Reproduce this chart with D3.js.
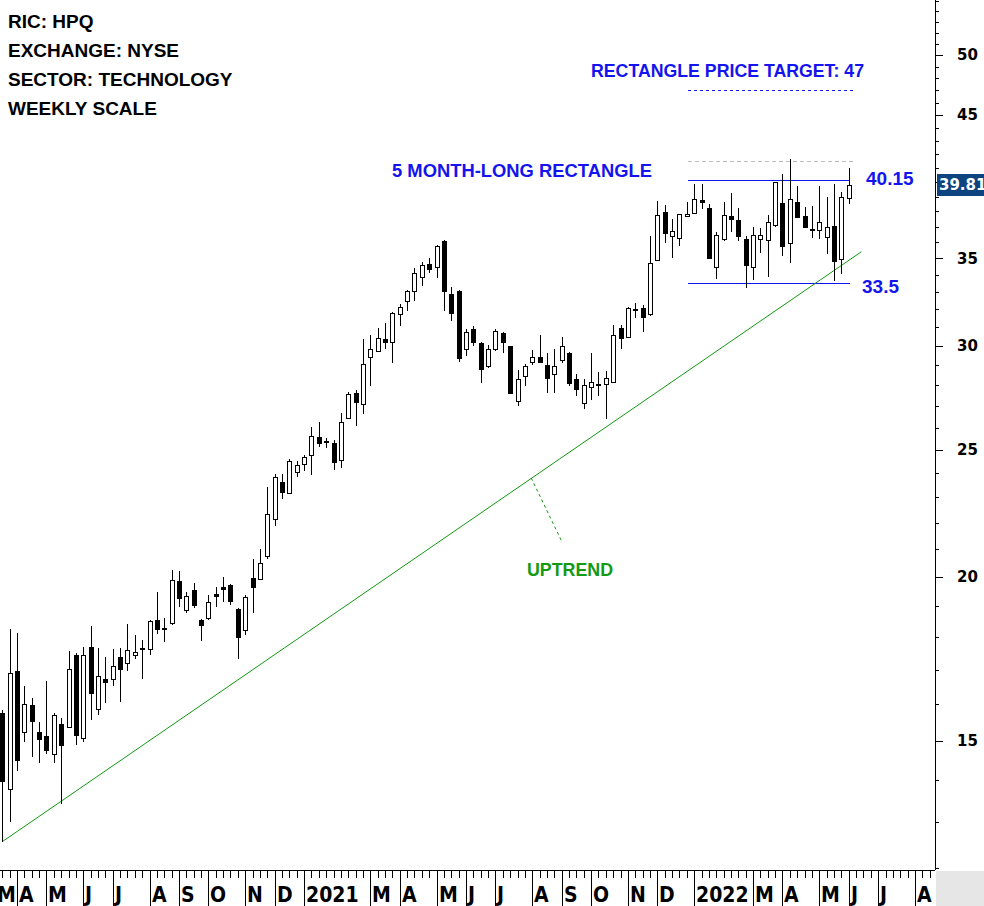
<!DOCTYPE html>
<html>
<head>
<meta charset="utf-8">
<script src="https://cdn.jsdelivr.net/npm/d3@7"></script>
<style>
body { margin: 0; background: #fff; }
svg { display: block; }
</style>
</head>
<body>
<svg id="chart" width="984" height="906"></svg>
<script>
// weekly bars, HPQ, first bar is the week ending 2020-03-20
var opens = [15.75,13.78,16.96,15.23,15.97,15.23,15.12,14.65,15.45,15.37,17.43,15.07,17.69,15.86,16.72,16.72,17.37,17.19,17.43,17.66,
  17.62,18.54,18.30,18.44,19.87,18.88,19.55,18.55,18.62,19.42,19.66,19.73,18.91,18.22,19.96,19.92,20.75,22.13,23.62,23.17,
  24.04,24.38,24.77,25.57,25.38,25.29,24.55,26.43,27.62,27.09,29.45,29.74,30.38,30.21,31.72,32.47,33.06,33.88,34.65,34.44,
  36.07,32.85,33.04,29.83,30.92,30.16,28.98,29.86,30.68,29.99,27.23,28.45,29.16,29.42,29.00,28.55,29.26,29.62,28.30,27.13,
  27.93,28.03,28.05,28.17,30.98,30.48,32.00,32.09,31.72,34.89,37.94,36.41,36.24,37.69,37.87,38.77,38.20,34.44,36.22,37.67,
  37.43,36.20,34.44,36.18,36.12,37.08,38.54,35.93,38.61,37.69,36.84,36.76,36.30,37.04,34.93,38.88];
var highs = [15.85,18.25,18.14,16.52,16.17,15.51,16.67,15.75,15.63,17.57,17.50,17.69,18.35,17.65,17.37,17.63,17.65,18.41,18.07,17.91,
  18.55,19.49,18.61,20.25,20.21,19.49,19.81,18.57,19.38,19.67,20.01,19.75,18.93,19.38,20.64,21.01,23.41,23.97,23.97,24.59,
  24.51,24.77,26.01,26.24,25.53,25.43,26.66,27.66,27.77,30.38,30.57,30.95,31.22,31.87,32.30,33.10,34.39,34.77,35.01,35.80,
  36.14,33.25,33.08,30.92,31.07,30.21,30.04,30.92,30.77,30.02,28.77,29.06,29.79,30.59,29.62,29.84,30.48,29.70,28.55,28.30,
  29.62,28.68,28.73,31.13,31.13,32.15,32.37,32.25,36.41,38.70,38.43,37.47,37.85,38.61,39.87,39.87,38.49,36.62,38.65,39.27,
  38.25,36.41,36.97,36.88,37.76,40.02,40.58,41.66,39.73,38.31,38.36,39.73,38.95,39.87,39.29,40.98];
var lows = [12.57,13.00,14.24,14.96,14.58,14.44,14.65,14.44,13.42,15.35,14.90,14.98,15.56,15.70,16.02,16.53,16.07,16.97,17.32,16.72,
  17.43,18.09,17.86,18.37,18.99,18.79,18.94,17.89,18.55,18.99,19.15,19.05,17.31,18.08,18.77,19.90,20.66,21.89,22.95,23.15,
  23.82,24.08,23.94,25.12,25.08,24.14,24.20,26.40,26.09,26.61,27.98,29.72,29.83,29.11,31.09,31.93,32.49,33.33,34.09,33.82,
  31.92,31.37,29.19,29.50,29.98,28.13,28.88,29.74,29.62,27.59,27.02,27.98,29.02,29.11,27.64,27.64,29.11,27.98,27.49,26.88,
  27.28,27.48,26.38,28.15,29.83,30.46,31.53,30.77,31.63,34.85,35.97,35.03,35.77,37.66,37.85,38.18,34.97,33.76,36.10,36.64,
  36.10,33.20,33.70,35.30,33.88,36.95,35.15,34.69,37.62,36.93,36.28,36.22,35.26,33.63,34.06,38.47];
var closes = [13.97,16.89,14.51,16.00,15.54,15.04,14.76,15.69,14.90,17.01,15.17,17.43,16.33,16.80,16.65,17.10,17.03,17.59,17.53,17.64,
  18.52,18.25,18.27,19.89,19.29,19.35,19.03,18.37,19.14,19.36,19.59,19.18,18.01,19.30,19.67,20.49,22.33,23.83,23.21,24.51,
  24.34,24.68,25.61,25.29,25.33,24.46,26.24,27.57,27.21,29.06,29.83,30.41,30.24,31.78,32.15,33.06,34.09,34.59,34.32,35.76,
  33.06,31.81,29.36,30.75,30.24,28.80,29.83,30.79,30.21,27.64,28.31,28.96,29.42,29.16,28.35,28.98,29.99,28.13,27.81,28.02,
  28.15,28.07,28.35,30.57,30.43,32.06,32.04,31.59,34.69,37.76,36.60,36.71,37.81,37.82,38.81,38.65,35.03,36.44,37.74,37.51,
  36.41,34.61,36.45,36.44,37.30,39.99,35.77,38.81,37.64,36.99,36.76,37.30,36.95,34.85,38.95,39.81];

var monthTickDates = ["2020-03-13","2020-04-03","2020-05-01","2020-06-05","2020-07-03","2020-08-07","2020-09-04","2020-10-02",
  "2020-11-06","2020-12-04","2021-01-01","2021-03-05","2021-04-02","2021-05-07","2021-06-04","2021-07-02","2021-08-06",
  "2021-09-03","2021-10-01","2021-11-05","2021-12-03","2022-01-07","2022-03-04","2022-04-01","2022-05-06","2022-06-03",
  "2022-07-01","2022-08-05"];
var monthTickLabels = ["M","A","M","J","J","A","S","O","N","D","2021","M","A","M","J","J","A","S","O","N","D","2022",
  "M","A","M","J","J","A"];

var priceTicks = [15, 20, 25, 30, 35, 40, 45, 50];
var lastPrice = 39.81;

// rectangle study
var rectStart = "2021-12-31", rectEnd = "2022-06-03", targetEnd = "2022-06-09";
var rectTop = 40.15, rectBottom = 33.5, rectHigh = 41.5, priceTarget = 47;
var trendLine = [{date: "2020-03-20", price: 12.57}, {date: "2022-06-15", price: 35.4}];
var trendNote = [{date: "2021-08-05", price: 23.8}, {date: "2021-09-03", price: 21.3}];

var headerLines = ["RIC: HPQ", "EXCHANGE: NYSE", "SECTOR: TECHNOLOGY", "WEEKLY SCALE"];

var W = 984, H = 906;
var plotRight = 935, plotBottom = 870;
var blue = "#1414ee", green = "#139a13";

var svg = d3.select("#chart");
var parse = d3.utcParse("%Y-%m-%d");

var weeks = d3.utcFriday.range(Date.UTC(2020, 2, 20), Date.UTC(2022, 5, 4));
var bars = weeks.map(function (d, i) {
  return {date: d, open: opens[i], high: highs[i], low: lows[i], close: closes[i]};
});

var x = d3.scaleUtc()
  .domain([weeks[0], weeks[weeks.length - 1]])
  .range([2.3, 848.7]);

var y = d3.scaleLog()
  .domain([11.96, 55.07])
  .range([plotBottom, 0]);

function px(v) { return Math.round(v) + 0.5; }

// grey corner under the price axis
svg.append("rect")
  .attr("x", plotRight + 1).attr("y", plotBottom + 1)
  .attr("width", W - plotRight).attr("height", H - plotBottom)
  .attr("fill", "#e6e6e6");

var plot = svg.append("g");

// ---- x axis (weekly ticks, month separators)
var axisX = svg.append("g").attr("shape-rendering", "crispEdges");
axisX.append("line")
  .attr("x1", 0).attr("x2", plotRight)
  .attr("y1", plotBottom + 0.5).attr("y2", plotBottom + 0.5)
  .attr("stroke", "#000");

var allFridays = d3.utcFriday.range(Date.UTC(2020, 2, 1), Date.UTC(2022, 8, 1))
  .filter(function (d) { return x(d) >= 0 && x(d) < plotRight; });

axisX.selectAll("line.wk")
  .data(allFridays)
  .enter().append("line")
  .attr("class", "wk")
  .attr("x1", function (d) { return px(x(d)); })
  .attr("x2", function (d) { return px(x(d)); })
  .attr("y1", plotBottom).attr("y2", plotBottom + 8)
  .attr("stroke", "#000");

var monthTicks = monthTickDates.map(function (d, i) { return {date: parse(d), label: monthTickLabels[i]}; });

axisX.selectAll("line.mo")
  .data(monthTicks)
  .enter().append("line")
  .attr("class", "mo")
  .attr("x1", function (d) { return px(x(d.date)); })
  .attr("x2", function (d) { return px(x(d.date)); })
  .attr("y1", plotBottom).attr("y2", H)
  .attr("stroke", "#000");

svg.append("g").selectAll("text")
  .data(monthTicks)
  .enter().append("text")
  .attr("x", function (d) { return Math.round(x(d.date)) + 2; })
  .attr("y", 902)
  .attr("font-family", "'Liberation Sans Narrow', 'DejaVu Sans Condensed', sans-serif")
  .attr("font-weight", "bold")
  .attr("font-size", 21)
  .attr("fill", "#000")
  .text(function (d) { return d.label; });

// ---- y axis on the right, log scale
var axisY = svg.append("g").attr("shape-rendering", "crispEdges");
axisY.append("line")
  .attr("x1", plotRight + 0.5).attr("x2", plotRight + 0.5)
  .attr("y1", 0).attr("y2", plotBottom)
  .attr("stroke", "#000");

var minor = d3.range(12, 56);
axisY.selectAll("line.mn")
  .data(minor)
  .enter().append("line")
  .attr("x1", plotRight)
  .attr("x2", function (d) { return priceTicks.indexOf(d) >= 0 ? plotRight + 8 : plotRight + 4; })
  .attr("y1", function (d) { return px(y(d)); })
  .attr("y2", function (d) { return px(y(d)); })
  .attr("stroke", "#000");

// the 40 label sits under the last-price box, so it is left out
svg.append("g").selectAll("text")
  .data(priceTicks.filter(function (d) { return Math.abs(y(d) - y(lastPrice)) > 14; }))
  .enter().append("text")
  .attr("x", 957)
  .attr("y", function (d) { return y(d); })
  .attr("dy", "0.36em")
  .attr("font-family", "'DejaVu Sans', Verdana, sans-serif")
  .attr("font-weight", "bold")
  .attr("font-size", 15)
  .attr("fill", "#000")
  .text(function (d) { return d; });

// last price box
svg.append("rect")
  .attr("x", plotRight + 2).attr("y", Math.round(y(lastPrice)) - 11)
  .attr("width", W - plotRight).attr("height", 22)
  .attr("fill", "#0d4480");
svg.append("text")
  .attr("x", plotRight + 4).attr("y", y(lastPrice))
  .attr("dy", "0.36em")
  .attr("font-family", "'DejaVu Sans', Verdana, sans-serif")
  .attr("font-weight", "bold")
  .attr("font-size", 15)
  .attr("fill", "#fff")
  .text(d3.format(".2f")(lastPrice));

// ---- study lines
var lines = plot.append("g").attr("shape-rendering", "crispEdges");
var rx0 = px(x(parse(rectStart))), rx1 = px(x(parse(rectEnd))), rx2 = px(x(parse(targetEnd)));

lines.append("line")
  .attr("x1", rx0).attr("x2", rx2)
  .attr("y1", px(y(rectHigh))).attr("y2", px(y(rectHigh)))
  .attr("stroke", "#bdbdbd").attr("stroke-dasharray", "4,3");
lines.append("line")
  .attr("x1", rx0).attr("x2", rx2)
  .attr("y1", px(y(priceTarget))).attr("y2", px(y(priceTarget)))
  .attr("stroke", blue).attr("stroke-dasharray", "3,3");
[rectTop, rectBottom].forEach(function (p) {
  lines.append("line")
    .attr("x1", rx0).attr("x2", rx1)
    .attr("y1", px(y(p))).attr("y2", px(y(p)))
    .attr("stroke", blue);
});

plot.append("line")
  .attr("x1", x(parse(trendLine[0].date))).attr("y1", y(trendLine[0].price))
  .attr("x2", x(parse(trendLine[1].date))).attr("y2", y(trendLine[1].price))
  .attr("stroke", "#109a10").attr("stroke-width", 1);

plot.append("line")
  .attr("x1", x(parse(trendNote[0].date))).attr("y1", y(trendNote[0].price))
  .attr("x2", x(parse(trendNote[1].date))).attr("y2", y(trendNote[1].price))
  .attr("stroke", "#109a10").attr("stroke-dasharray", "3,3");

// ---- candles
var candle = plot.append("g")
  .attr("shape-rendering", "crispEdges")
  .selectAll("g")
  .data(bars)
  .enter().append("g");

candle.append("line")
  .attr("x1", function (d) { return px(x(d.date)); })
  .attr("x2", function (d) { return px(x(d.date)); })
  .attr("y1", function (d) { return Math.round(y(d.high)); })
  .attr("y2", function (d) { return Math.round(y(d.low)); })
  .attr("stroke", "#000");

candle.append("rect")
  .attr("x", function (d) { return Math.round(x(d.date)) - 1.5; })
  .attr("y", function (d) { return Math.round(y(Math.max(d.open, d.close))) + 0.5; })
  .attr("width", 4)
  .attr("height", function (d) {
    return Math.max(1, Math.round(y(Math.min(d.open, d.close))) - Math.round(y(Math.max(d.open, d.close))));
  })
  .attr("fill", function (d) { return d.close >= d.open ? "#fff" : "#000"; })
  .attr("stroke", "#000");

// ---- text
var font = "'Liberation Sans', Arial, sans-serif";

svg.append("g").selectAll("text")
  .data(headerLines)
  .enter().append("text")
  .attr("x", 8)
  .attr("y", function (d, i) { return 28 + i * 29; })
  .attr("font-family", font)
  .attr("font-weight", "bold")
  .attr("font-size", 19)
  .text(function (d) { return d; });

function note(t, xPos, yPos, color, anchor, len) {
  var el = svg.append("text")
    .attr("x", xPos).attr("y", yPos)
    .attr("font-family", font)
    .attr("font-weight", "bold")
    .attr("font-size", 19)
    .attr("text-anchor", anchor || "start")
    .attr("fill", color)
    .text(t);
  if (len) el.attr("textLength", len).attr("lengthAdjust", "spacingAndGlyphs");
}

note("RECTANGLE PRICE TARGET: " + priceTarget, 591, 77, blue, "start", 273);
note("5 MONTH-LONG RECTANGLE", 392, 177, blue, "start", 260);
note(d3.format(".2f")(rectTop), 866, y(rectTop) + 5, blue);
note(String(rectBottom), 862, y(rectBottom) + 10, blue);
note("UPTREND", 527, 576, green, "start", 86);
</script>
</body>
</html>
